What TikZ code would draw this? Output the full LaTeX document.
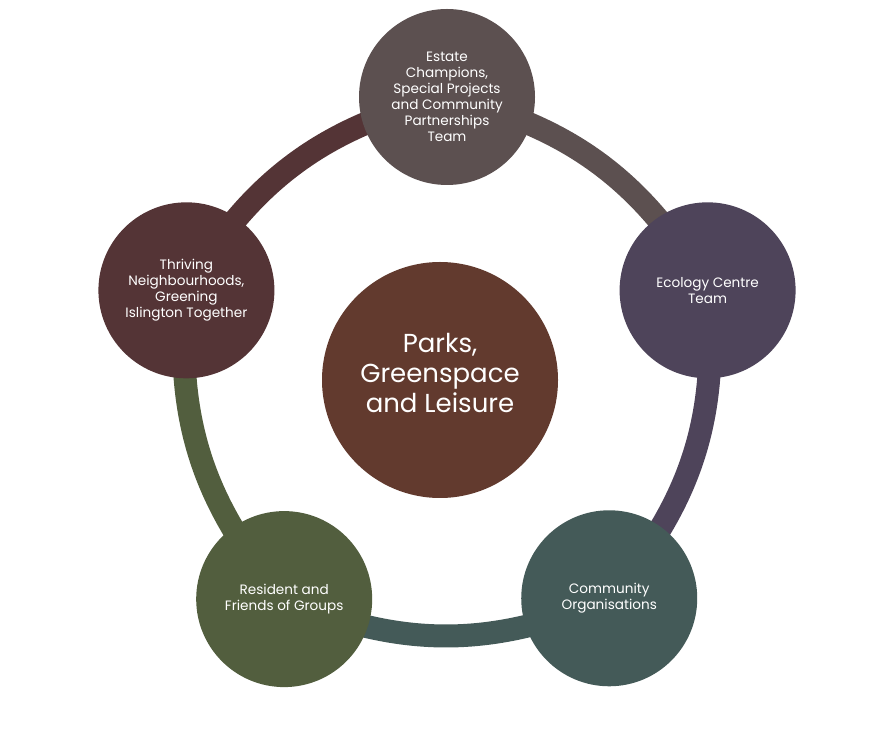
\documentclass[tikz,border=0pt]{standalone}
\usepackage{fontspec}
\setmainfont{Poppins}
\usetikzlibrary{backgrounds,calc}

\definecolor{pgTop}{RGB}{92,80,80}
\definecolor{pgRight}{RGB}{78,68,90}
\definecolor{pgLowRight}{RGB}{68,90,88}
\definecolor{pgLowLeft}{RGB}{82,94,62}
\definecolor{pgLeft}{RGB}{84,52,54}
\definecolor{pgCentre}{RGB}{98,58,46}

\tikzset{
  team/.style={circle, minimum size=176pt, inner sep=0pt, text=white,
    align=center, font=\fontsize{13.6}{16}\selectfont},
  hub/.style={circle, minimum size=236pt, inner sep=0pt, fill=pgCentre},
  hubtext/.style={text=white, align=center, font=\fontsize{26}{30}\selectfont},
  ring/.style={line width=23pt, bend left=23}
}

\begin{document}
\begin{tikzpicture}[x=1pt, y=1pt]
  \useasboundingbox (0,0) rectangle (888,736);
  \coordinate (mid) at (447,361);

  % centre
  \node[hub] (parks) at (440,356) {};
  \node[hubtext] (parkstext) at ([yshift=7pt]parks.center) {Parks,\\Greenspace\\and Leisure};

  % teams round the ring
  \node[team, fill=pgTop] (estate) at ($(mid)+(90:278)$) {Estate\\Champions,\\Special Projects\\and Community\\Partnerships\\Team};
  \node[team, fill=pgRight] (ecology) at ($(mid)+(18:274)$) {Ecology Centre\\Team};
  \node[team, fill=pgLowRight] (community) at ($(mid)+(-54:276)$) {Community\\Organisations};
  \node[team, fill=pgLowLeft] (friends) at ($(mid)+(-126:277)$) {Resident and\\Friends of Groups};
  \node[team, fill=pgLeft] (thriving) at ($(mid)+(162:274)$) {Thriving\\Neighbourhoods,\\Greening\\Islington Together};

  \begin{pgfonlayer}{background}
    \draw[ring, draw=pgTop] (estate.center) to (ecology.center);
    \draw[ring, draw=pgRight] (ecology.center) to (community.center);
    \draw[ring, draw=pgLowRight] (community.center) to (friends.center);
    \draw[ring, draw=pgLowLeft] (friends.center) to (thriving.center);
    \draw[ring, draw=pgLeft] (thriving.center) to (estate.center);
  \end{pgfonlayer}
\end{tikzpicture}
\end{document}
